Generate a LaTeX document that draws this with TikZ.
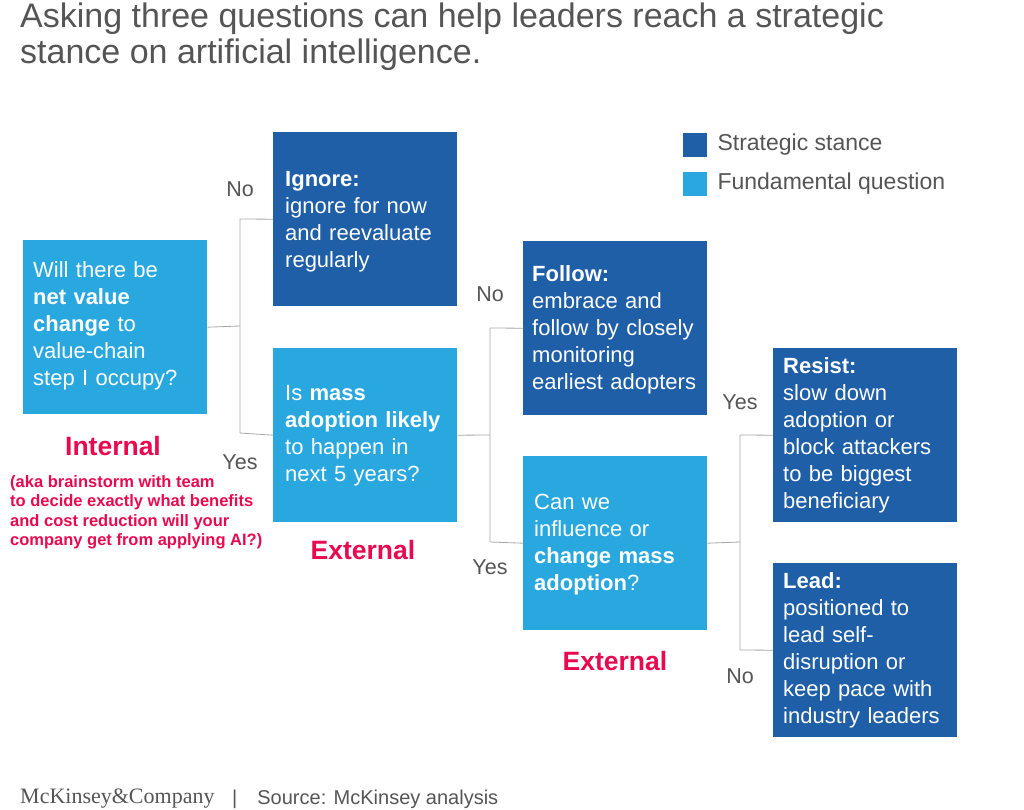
\documentclass[tikz,border=0pt]{standalone}
\usepackage{fontspec}
\setmainfont{Liberation Sans}
\usetikzlibrary{positioning}
\definecolor{stance}{HTML}{1F5FA8}
\definecolor{quest}{HTML}{29A8E0}
\definecolor{labelred}{HTML}{E8094F}
\definecolor{txtgray}{HTML}{555555}
\tikzset{
  box/.style={minimum width=184pt,minimum height=174pt,inner sep=0pt,anchor=north west,text=white},
  stancebox/.style={box,fill=stance},
  questbox/.style={box,fill=quest},
  inner/.style={anchor=north west,text width=180pt,align=left,font=\fontsize{22}{27}\selectfont,text=white,inner sep=0pt},
  link/.style={draw=gray!70,line width=0.8pt},
  ans/.style={font=\fontsize{21.5}{24}\selectfont,text=txtgray},
  tag/.style={font=\bfseries\fontsize{26.5}{30}\selectfont,text=labelred}
}
\begin{document}
\begin{tikzpicture}[x=1pt,y=-1pt]
\useasboundingbox (0,0) rectangle (1024,810);
% title
\node[anchor=north west,align=left,text=txtgray,inner sep=0pt,font=\fontsize{34}{36}\selectfont] at (20,3)
  {Asking three questions can help leaders reach a strategic\\stance on artificial intelligence.};
% legend
\fill[stance] (683,133) rectangle (707,157);
\node[anchor=west,font=\fontsize{23}{26}\selectfont,text=txtgray] (lgs) at (714,145) {Strategic stance};
\fill[quest] (683,172) rectangle (707,196);
\node[anchor=west,font=\fontsize{23}{26}\selectfont,text=txtgray] (lgq) at (714,184) {Fundamental question};
% boxes
\node[questbox] (q1) at (23,240) {};
\node[inner] at (33,261) {Will there be\\\textbf{net value}\\\textbf{change} to\\value-chain\\step I occupy?};
\node[stancebox] (ignore) at (273,132) {};
\node[inner] at (285,171) {\textbf{Ignore:}\\ignore for now\\and reevaluate\\regularly};
\node[questbox] (q2) at (273,348) {};
\node[inner] at (285,385) {Is \textbf{mass}\\\textbf{adoption likely}\\to happen in\\next 5 years?};
\node[stancebox] (follow) at (523,241) {};
\node[inner] at (532,265) {\textbf{Follow:}\\embrace and\\follow by closely\\monitoring\\earliest adopters};
\node[questbox] (q3) at (523,456) {};
\node[inner] at (534,494) {Can we\\influence or\\\textbf{change mass}\\\textbf{adoption}?};
\node[stancebox] (resist) at (773,348) {};
\node[inner] at (783,357) {\textbf{Resist:}\\slow down\\adoption or\\block attackers\\to be biggest\\beneficiary};
\node[stancebox] (lead) at (773,563) {};
\node[inner] at (783,572) {\textbf{Lead:}\\positioned to\\lead self-\\disruption or\\keep pace with\\industry leaders};
% connectors
\coordinate (s1) at (240,326);
\draw[link] (q1.east) -- (s1) (240,219) -- (240,433) (240,219) -- (ignore.west) (240,433) -- (q2.west);
\draw[link] (q2.east) -- (490,435) (490,328) -- (490,542) (490,328) -- (follow.west) (490,542) -- (q3.west);
\draw[link] (q3.east) -- (740,542) (740,435) -- (740,650) (740,435) -- (resist.west) (740,650) -- (lead.west);
\node[ans] at (240,189) {No};
\node[ans] at (240,462) {Yes};
\node[ans] at (490,294) {No};
\node[ans] at (490,567) {Yes};
\node[ans] at (740,402) {Yes};
\node[ans] at (740,676) {No};
% red tags
\node[tag] at (113,446) {Internal};
\node[tag] at (363,550) {External};
\node[tag] at (615,661) {External};
\node[anchor=north west,inner sep=0pt,align=left,text=labelred,font=\bfseries\fontsize{16.5}{19.5}\selectfont] at (10,475)
  {(aka brainstorm with team\\to decide exactly what benefits\\and cost reduction will your\\company get from applying AI?)};
% footer
\node[anchor=west,inner sep=0pt,text=txtgray,font=\fontspec{Liberation Serif}\fontsize{22}{24}\selectfont] at (20,799) {McKinsey\&Company};
\node[anchor=west,inner sep=0pt,text=txtgray,font=\fontsize{20}{24}\selectfont] at (232,799) {|\quad Source: McKinsey analysis};
\end{tikzpicture}
\end{document}
